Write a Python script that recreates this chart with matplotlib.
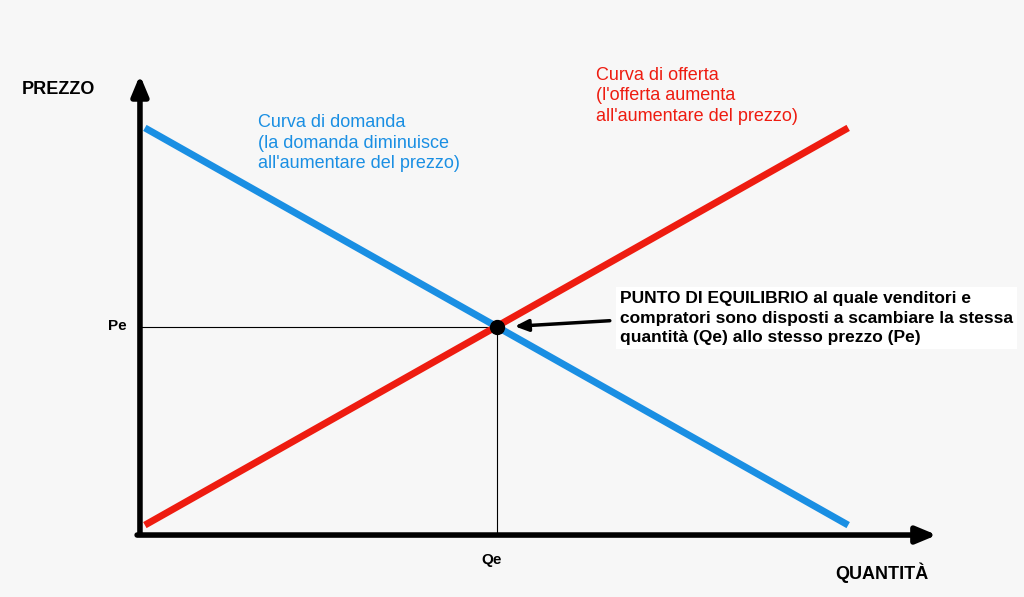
import matplotlib
matplotlib.use("Agg")
import matplotlib.pyplot as plt

# quantities and prices (arbitrary units)
demand_q = [0, 10]
demand_p = [10, 0]
supply_q = [0, 10]
supply_p = [0, 10]
qe, pe = 5, 5

bg = "#f7f7f7"
blue = "#1a8fe3"
red = "#ee1c10"

fig = plt.figure(figsize=(10.24, 5.97), dpi=100, facecolor=bg)
ax = fig.add_axes([0, 0, 1, 1])
ax.set_facecolor(bg)
ax.set_xlim(-2.06, 12.5)
ax.set_ylim(-1.81, 13.22)
ax.axis("off")

# axes with arrows
ax.annotate("", xy=(-0.07, 11.4), xytext=(-0.07, -0.3),
            arrowprops=dict(arrowstyle="-|>,head_width=0.5,head_length=1.2", lw=4, color="black"))
ax.annotate("", xy=(11.3, -0.25), xytext=(-0.15, -0.25),
            arrowprops=dict(arrowstyle="-|>,head_width=0.5,head_length=1.2", lw=4, color="black"))

# guide lines
ax.plot([-0.07, qe], [pe, pe], color="black", lw=0.8)
ax.plot([qe, qe], [-0.25, pe], color="black", lw=0.8)

ax.plot(demand_q, demand_p, color=blue, lw=5, solid_capstyle="butt")
ax.plot(supply_q, supply_p, color=red, lw=5, solid_capstyle="butt")
ax.plot(qe, pe, "o", color="black", ms=10, zorder=5)

font = ["Liberation Sans", "DejaVu Sans"]
narrow = ["Liberation Sans Narrow", "Liberation Sans", "DejaVu Sans"]
fig.text(22 / 1024, 1 - 90 / 597, "PREZZO", fontsize=13, fontweight="bold", va="center", family=font)
fig.text(835 / 1024, 1 - 573 / 597, "QUANTITÀ", fontsize=13, fontweight="bold", va="center", family=font)
fig.text(108 / 1024, 1 - 326 / 597, "Pe", fontsize=11, fontweight="bold", va="center", family=narrow)
fig.text(481 / 1024, 1 - 560 / 597, "Qe", fontsize=11, fontweight="bold", va="center", family=narrow)

fig.text(258 / 1024, 1 - 143 / 597,
         "Curva di domanda\n(la domanda diminuisce\nall'aumentare del prezzo)",
         color=blue, fontsize=13, va="center", linespacing=1.25, family=font)
fig.text(596 / 1024, 1 - 96 / 597,
         "Curva di offerta\n(l'offerta aumenta\nall'aumentare del prezzo)",
         color=red, fontsize=13, va="center", linespacing=1.25, family=font)
fig.text(620 / 1024, 1 - 318 / 597,
         "PUNTO DI EQUILIBRIO al quale venditori e\ncompratori sono disposti a scambiare la stessa\nquantità (Qe) allo stesso prezzo (Pe)",
         color="black", fontsize=12.5, fontweight="bold", va="center", linespacing=1.4, family=narrow,
         bbox=dict(facecolor="white", edgecolor="none", pad=3))

ax.annotate("", xy=(qe + 0.22, pe), xytext=(6.65, 5.15),
            arrowprops=dict(arrowstyle="-|>,head_width=0.35,head_length=0.8", lw=2.5, color="black"))

fig.savefig("out.png", dpi=100, facecolor=bg)
